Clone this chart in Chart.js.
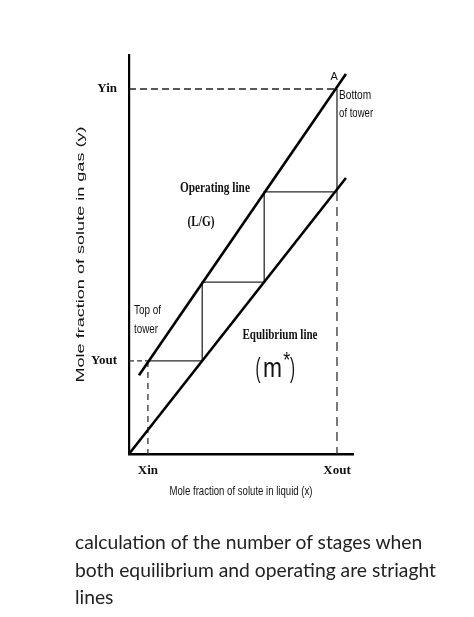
<!DOCTYPE html>
<html>
<head>
<meta charset="utf-8">
<script src="https://cdn.jsdelivr.net/npm/chart.js@4"></script>
<style>
  html, body { margin: 0; padding: 0; background: #fff; }
  #wrap { position: relative; width: 474px; height: 617px; }
  #chart { position: absolute; left: 0; top: 0; }
  #caption {
    position: absolute; left: 75px; top: 528px; width: 395px; white-space: nowrap;
    font-family: Lato, "Open Sans", sans-serif; font-size: 19.3px; line-height: 27.5px; color: #222;
  }
</style>
</head>
<body>
<div id="wrap">
  <canvas id="chart" width="474" height="617"></canvas>
  <div id="caption">calculation of the number of stages when<br>both equilibrium and operating are striaght<br>lines</div>
</div>
<script>
// ---- data (x: Xout = 1, y: Yin = 1) ----
const xTickValues = [0.091, 1.0];
const xTickLabels = ['Xin', 'Xout'];
const yTickValues = [0.255, 1.0];
const yTickLabels = ['Yout', 'Yin'];

const operatingX = [0.048, 1.043];
const operatingY = [0.216, 1.041];
const equilibriumX = [0.0, 1.043];
const equilibriumY = [0.0, 0.756];

// staircase between the two lines
const stepsX = [0.091, 0.352, 0.352, 0.650, 0.650, 0.990];
const stepsY = [0.255, 0.255, 0.471, 0.471, 0.718, 0.718];

const toPoints = (xs, ys) => xs.map((x, i) => ({ x: x, y: ys[i] }));

// ---- text drawn on the plot ----
function drawText(ctx, text, x, y, font, align, fitWidth, baseline) {
  ctx.save();
  ctx.font = font;
  ctx.textBaseline = baseline || 'middle';
  ctx.fillStyle = '#111';
  const w = ctx.measureText(text).width;
  const sx = fitWidth ? fitWidth / w : 1;
  ctx.translate(x, y);
  ctx.scale(sx, 1);
  ctx.textAlign = align || 'center';
  ctx.fillText(text, 0, 0);
  ctx.restore();
}

const notesPlugin = {
  id: 'notes',
  afterDraw(chart) {
    const ctx = chart.ctx;
    const xs = chart.scales.x, ys = chart.scales.y;
    const px = v => xs.getPixelForValue(v);
    const py = v => ys.getPixelForValue(v);
    const serif = 'bold 15px "Liberation Serif"';
    const sans = '13px "Liberation Sans"';

    drawText(ctx, 'A', px(0.986), py(1.033), '11px "Liberation Sans"', 'center');
    drawText(ctx, 'Bottom', px(1.01), py(0.981), sans, 'left', 32);
    drawText(ctx, 'of tower', px(1.01), py(0.932), sans, 'left', 34);
    drawText(ctx, 'Operating line', px(0.413), py(0.729), serif, 'center', 70);
    drawText(ctx, '(L/G)', px(0.346), py(0.636), serif, 'center', 27);
    drawText(ctx, 'Top of', px(0.024), py(0.392), sans, 'left', 27);
    drawText(ctx, 'tower', px(0.024), py(0.342), sans, 'left', 24);
    drawText(ctx, 'Equlibrium line', px(0.726), py(0.326), serif, 'center', 75);

    // ( m* )
    const big = '28px "Liberation Sans"';
    drawText(ctx, '(', px(0.620), py(0.211), big, 'center', 5, 'alphabetic');
    drawText(ctx, 'm', px(0.690), py(0.211), big, 'center', 19, 'alphabetic');
    drawText(ctx, '*', px(0.758), py(0.255), '22px "Liberation Sans"', 'center', 7);
    drawText(ctx, ')', px(0.786), py(0.211), big, 'center', 5, 'alphabetic');

    const area = chart.chartArea;
    drawText(ctx, 'Mole fraction of solute in liquid (x)', (area.left + area.right) / 2, area.bottom + 38,
      '12px "Liberation Sans"', 'center', 143);

    ctx.save();
    ctx.translate(81, (area.top + area.bottom) / 2);
    ctx.rotate(-Math.PI / 2);
    drawText(ctx, 'Mole fraction of solute in gas (y)', 0, 0, '11.5px "Liberation Sans"', 'center', 256);
    ctx.restore();
  }
};

const thin = { borderColor: '#2a2a2a', borderWidth: 1.3 };

new Chart(document.getElementById('chart'), {
  type: 'scatter',
  data: {
    datasets: [
      { data: toPoints(operatingX, operatingY), borderColor: '#000', borderWidth: 2.6 },
      { data: toPoints(equilibriumX, equilibriumY), borderColor: '#000', borderWidth: 2.6 },
      Object.assign({ data: toPoints(stepsX, stepsY) }, thin),
      // Yin dashed guide to point A
      { data: toPoints([0, xTickValues[1]], [yTickValues[1], yTickValues[1]]),
        borderColor: '#222', borderWidth: 1.6, borderDash: [7, 4] },
      // last step up to A
      Object.assign({ data: toPoints([xTickValues[1], xTickValues[1]], [stepsY[5], yTickValues[1]]) }, thin),
      // Xout dashed drop
      { data: toPoints([xTickValues[1], xTickValues[1]], [stepsY[5], 0]),
        borderColor: '#333', borderWidth: 1.3, borderDash: [9, 6] },
      // Xin dashed drop
      { data: toPoints([xTickValues[0], xTickValues[0]], [yTickValues[0], 0]),
        borderColor: '#333', borderWidth: 1.3, borderDash: [6, 5] },
      // Yout dashed from axis
      { data: toPoints([0, xTickValues[0]], [yTickValues[0], yTickValues[0]]),
        borderColor: '#333', borderWidth: 1.3, borderDash: [5, 3] }
    ].map(d => Object.assign({ showLine: true, pointRadius: 0, tension: 0, fill: false, clip: false }, d))
  },
  options: {
    responsive: false,
    animation: false,
    events: [],
    layout: { padding: { left: 0, top: 55, right: 121, bottom: 0 } },
    plugins: { legend: { display: false }, tooltip: { enabled: false } },
    scales: {
      x: {
        type: 'linear', min: 0, max: 1.077,
        grid: { display: false, drawTicks: false },
        border: { color: '#000', width: 2.6 },
        afterBuildTicks: s => { s.ticks = xTickValues.map(v => ({ value: v })); },
        afterFit: s => { s.height = 163; },
        ticks: {
          autoSkip: false, maxRotation: 0, padding: 9, color: '#111',
          font: { family: 'Liberation Serif', size: 13, weight: 'bold' },
          callback: v => xTickLabels[xTickValues.indexOf(v)]
        }
      },
      y: {
        type: 'linear', min: 0, max: 1.093,
        grid: { display: false, drawTicks: false },
        border: { color: '#000', width: 2.2 },
        afterBuildTicks: s => { s.ticks = yTickValues.map(v => ({ value: v })); },
        afterFit: s => { s.width = 129; },
        ticks: {
          autoSkip: false, padding: 12, color: '#111',
          font: { family: 'Liberation Serif', size: 13, weight: 'bold' },
          callback: v => yTickLabels[yTickValues.indexOf(v)]
        }
      }
    }
  },
  plugins: [notesPlugin]
});
</script>
</body>
</html>
